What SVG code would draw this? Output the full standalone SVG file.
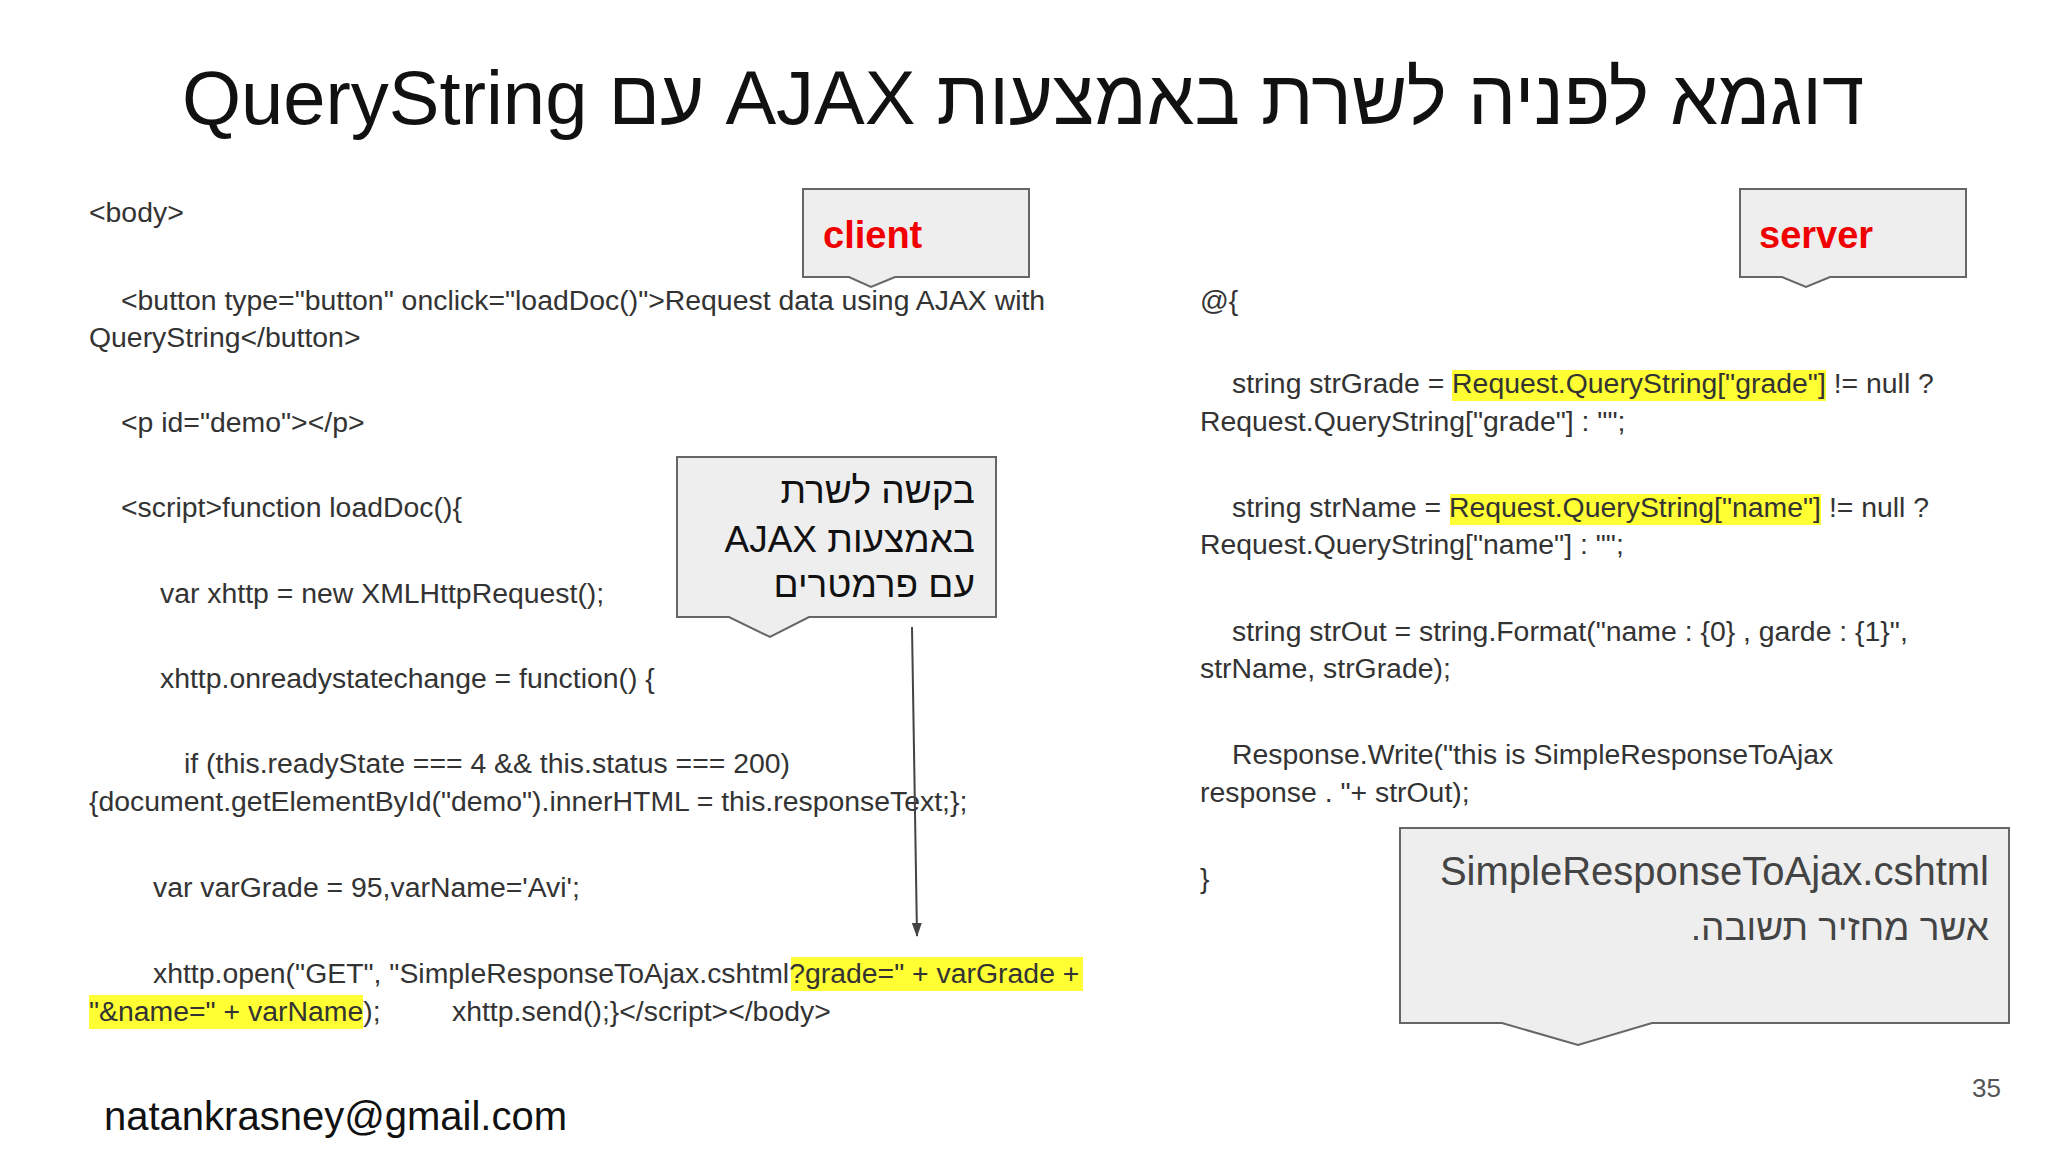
<svg xmlns="http://www.w3.org/2000/svg" width="2048" height="1152" viewBox="0 0 2048 1152">
<style>
text{font-family:"Liberation Sans",Arial,"Noto Sans",sans-serif}
.code{font-size:28.4px;fill:#333}
.box{fill:#eeeeee;stroke:#666;stroke-width:2}
.hl{fill:#ffff33}
.tag{font-size:38px;font-weight:bold;fill:#f00000}
.heb{font-size:37px;fill:#111}
</style>
<defs><marker id="ah" markerWidth="14" markerHeight="12" refX="13" refY="6" orient="auto" markerUnits="userSpaceOnUse"><path d="M0,1 L14,6 L0,11 Z" fill="#444"/></marker></defs>
<rect width="2048" height="1152" fill="#fff"/>
<text x="1023" y="124" font-size="76" text-anchor="middle" fill="#111" direction="rtl">דוגמא לפניה לשרת באמצעות AJAX עם QueryString</text>
<g id="highlights">
<rect class="hl" x="791" y="957" width="292" height="34"/>
<rect class="hl" x="89" y="995" width="274" height="34"/>
<rect class="hl" x="1452" y="370" width="374" height="31"/>
<rect class="hl" x="1450" y="494" width="371" height="31"/>
</g>
<g id="client-code">
<text class="code" x="89" y="222">&lt;body&gt;</text>
<text class="code" x="121" y="310">&lt;button type="button" onclick="loadDoc()"&gt;Request data using AJAX with</text>
<text class="code" x="89" y="347">QueryString&lt;/button&gt;</text>
<text class="code" x="121" y="432">&lt;p id="demo"&gt;&lt;/p&gt;</text>
<text class="code" x="121" y="517">&lt;script&gt;function loadDoc(){</text>
<text class="code" x="160" y="603">var xhttp = new XMLHttpRequest();</text>
<text class="code" x="160" y="688">xhttp.onreadystatechange = function() {</text>
<text class="code" x="184" y="773">if (this.readyState === 4 &amp;&amp; this.status === 200)</text>
<text class="code" x="89" y="811">{document.getElementById("demo").innerHTML = this.responseText;};</text>
<text class="code" x="153" y="897">var varGrade = 95,varName='Avi';</text>
<text class="code" x="153" y="983">xhttp.open("GET", "SimpleResponseToAjax.cshtml?grade=" + varGrade +</text>
<text class="code" x="89" y="1021">"&amp;name=" + varName);<tspan x="452">xhttp.send();}&lt;/script&gt;&lt;/body&gt;</tspan></text>
</g>
<g id="server-code">
<text class="code" x="1200" y="310">@{</text>
<text class="code" x="1232" y="393">string strGrade = Request.QueryString["grade"] != null ?</text>
<text class="code" x="1200" y="431">Request.QueryString["grade"] : "";</text>
<text class="code" x="1232" y="517">string strName = Request.QueryString["name"] != null ?</text>
<text class="code" x="1200" y="554">Request.QueryString["name"] : "";</text>
<text class="code" x="1232" y="641">string strOut = string.Format("name : {0} , garde : {1}",</text>
<text class="code" x="1200" y="678">strName, strGrade);</text>
<text class="code" x="1232" y="764">Response.Write("this is SimpleResponseToAjax</text>
<text class="code" x="1200" y="802">response . "+ strOut);</text>
<text class="code" x="1200" y="888">}</text>
</g>
<g id="client">
<path class="box" d="M803,189 H1029 V277 H895 L871,287 L849,277 H803 Z"/>
<text class="tag" x="823" y="248">client</text>
</g>
<g id="server">
<path class="box" d="M1740,189 H1966 V277 H1830 L1806,287 L1782,277 H1740 Z"/>
<text class="tag" x="1759" y="248">server</text>
</g>
<g id="request-note">
<path class="box" d="M677,457 H996 V617 H809 L770,637 L729,617 H677 Z"/>
<text class="heb" x="975" y="503" direction="rtl">בקשה לשרת</text>
<text class="heb" x="975" y="552" direction="rtl">באמצעות AJAX</text>
<text class="heb" x="975" y="597" direction="rtl">עם פרמטרים</text>
</g>
<g id="response-note">
<path class="box" d="M1400,828 H2009 V1023 H1652 L1578,1045 L1502,1023 H1400 Z"/>
<text x="1989" y="885" font-size="40" fill="#444" text-anchor="end">SimpleResponseToAjax.cshtml</text>
<text x="1989" y="940" font-size="37" fill="#444" direction="rtl">אשר מחזיר תשובה.</text>
</g>
<g id="connectors">
<line x1="912" y1="627" x2="917" y2="936" stroke="#444" stroke-width="2" marker-end="url(#ah)"/>
</g>
<text x="104" y="1130" font-size="40" fill="#111">natankrasney@gmail.com</text>
<text x="2001" y="1097" font-size="26" fill="#555" text-anchor="end">35</text>
</svg>
